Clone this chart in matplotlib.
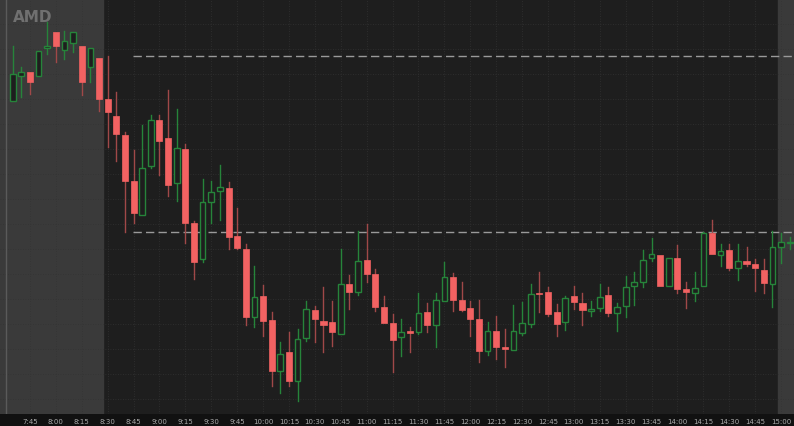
import matplotlib.pyplot as plt
from matplotlib.patches import Rectangle

# candle levels measured from the screen (pixel rows, smaller = higher price)
body_top = [75, 73, 73, 52, 47, 33, 42, 33, 47, 49, 59, 100, 117, 136, 182, 169, 121, 121, 139, 149,
            150, 224, 203, 193, 188, 189, 237, 250, 298, 297, 321, 355, 353, 340, 310, 311, 322, 323, 285, 285,
            262, 261, 275, 308, 324, 333, 332, 314, 313, 301, 278, 278, 301, 309, 320, 332, 332, 348, 332, 324,
            295, 294, 293, 313, 299, 297, 304, 310, 298, 296, 308, 288, 283, 261, 255, 256, 259, 259, 290, 289,
            234, 234, 252, 251, 262, 262, 265, 271, 248, 243, 243]
body_bot = [102, 77, 83, 77, 49, 47, 51, 44, 83, 68, 100, 113, 135, 182, 214, 216, 167, 142, 186, 184,
            224, 263, 260, 203, 192, 238, 249, 318, 318, 322, 372, 372, 382, 382, 339, 320, 326, 333, 335, 293,
            293, 275, 308, 324, 341, 338, 334, 333, 326, 326, 302, 301, 311, 320, 352, 352, 348, 350, 351, 334,
            325, 295, 315, 325, 323, 303, 311, 312, 309, 314, 314, 307, 287, 283, 259, 287, 287, 290, 293, 294,
            287, 255, 256, 269, 269, 265, 269, 284, 285, 248, 244]
wick_hi = [47, 68, 73, 52, 23, 33, 32, 33, 47, 49, 59, 57, 93, 133, 151, 126, 116, 116, 91, 110,
           145, 222, 180, 182, 166, 183, 209, 245, 267, 286, 313, 343, 333, 330, 302, 307, 288, 302, 250, 276,
           232, 225, 270, 297, 315, 320, 328, 294, 304, 294, 263, 274, 283, 302, 301, 323, 317, 330, 306, 303,
           285, 273, 288, 305, 297, 287, 294, 302, 285, 288, 304, 277, 273, 251, 239, 256, 259, 246, 283, 273,
           233, 221, 245, 245, 245, 248, 260, 260, 232, 234, 238]
wick_lo = [102, 98, 95, 77, 55, 63, 60, 53, 96, 83, 112, 148, 162, 233, 224, 216, 169, 176, 197, 202,
           244, 280, 263, 224, 221, 250, 250, 326, 328, 337, 387, 394, 387, 402, 342, 343, 353, 347, 335, 310,
           296, 283, 312, 324, 373, 357, 353, 335, 333, 348, 302, 312, 312, 337, 363, 356, 360, 368, 351, 336,
           328, 313, 317, 337, 331, 310, 326, 317, 312, 317, 332, 318, 306, 288, 262, 287, 287, 294, 309, 302,
           287, 255, 267, 271, 281, 267, 292, 294, 308, 264, 250]
up = [1, 1, 0, 1, 1, 0, 1, 1, 0, 1, 0, 0, 0, 0, 0, 1, 1, 0, 0, 1,
      0, 0, 1, 1, 1, 0, 0, 0, 1, 0, 0, 1, 0, 1, 1, 0, 0, 0, 1, 0,
      1, 0, 0, 0, 0, 1, 0, 1, 0, 1, 1, 0, 0, 0, 0, 1, 0, 0, 1, 1,
      1, 0, 0, 0, 1, 0, 0, 1, 1, 0, 1, 1, 1, 1, 1, 0, 1, 0, 0, 1,
      1, 0, 1, 0, 1, 0, 0, 0, 1, 1, 1]
# first candle is 7:35, one every 5 minutes
tick_labels = ["7:45", "8:00", "8:15", "8:30", "8:45", "9:00", "9:15", "9:30", "9:45", "10:00",
               "10:15", "10:30", "10:45", "11:00", "11:15", "11:30", "11:45", "12:00", "12:15", "12:30",
               "12:45", "13:00", "13:15", "13:30", "13:45", "14:00", "14:15", "14:30", "14:45", "15:00"]
levels = [57, 233]

bg = "#1e1e1e"
green = "#26843a"
red = "#f26262"

fig = plt.figure(figsize=(7.94, 4.27), dpi=100, facecolor="#111111")
ax = fig.add_axes([0, 12/427, 1, 415/427])
ax.set_facecolor(bg)
ax.set_xlim(-1.47, 90.5)
ax.set_ylim(415, 0)

# pre/post market shading
ax.axvspan(-1.47, 10.5, color="#3a3a3a", zorder=0)
ax.axvspan(88.6, 90.5, color="#3a3a3a", zorder=0)
ax.axvline(-0.75, color="#5a5a5a", lw=1)

for y in range(25, 415, 25):
    ax.axhline(y, color="#333333", lw=0.6, ls=(0, (1, 2)), zorder=0.5)
ticks = [2 + 3*i for i in range(len(tick_labels))]
for t in ticks:
    ax.axvline(t, color="#333333", lw=0.6, ls=(0, (1, 2)), zorder=0.5)

for lv in levels:
    ax.plot([13.9, 90.5], [lv, lv], color="#9a9a9a", lw=1, ls=(0, (6, 3)), zorder=1)

for i in range(len(up)):
    c = green if up[i] else red
    wc = green if up[i] else "#a04848"
    ax.plot([i, i], [wick_hi[i], body_top[i]], color=wc, lw=1, zorder=2)
    ax.plot([i, i], [body_bot[i], wick_lo[i]], color=wc, lw=1, zorder=2)
    h = max(body_bot[i] - body_top[i], 1)
    if up[i]:
        ax.add_patch(Rectangle((i - 0.33, body_top[i]), 0.66, h, facecolor=bg, edgecolor=green, lw=1, zorder=3))
    else:
        ax.add_patch(Rectangle((i - 0.35, body_top[i]), 0.7, h, facecolor=red, edgecolor=red, lw=0.5, zorder=3))

ax.text(13/794, 1 - 18/415, "AMD", transform=ax.transAxes, color="#707070", fontsize=11,
        fontweight="bold", va="center", ha="left")
ax.set_xticks(ticks)
ax.set_xticklabels(tick_labels, color="#aaaaaa", fontsize=5)
ax.tick_params(axis="x", length=0, pad=3)
ax.set_yticks([])
for s in ax.spines.values():
    s.set_visible(False)

fig.savefig("out.png", dpi=100, facecolor=fig.get_facecolor())
